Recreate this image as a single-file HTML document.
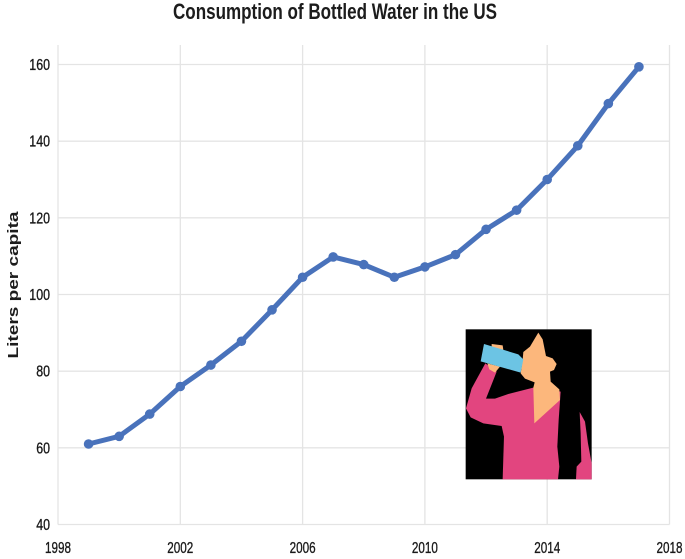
<!DOCTYPE html>
<html>
<head>
<meta charset="utf-8">
<style>
html,body{margin:0;padding:0;background:#fff;width:685px;height:559px;overflow:hidden}
svg{display:block}
text{font-family:"Liberation Sans",sans-serif;fill:#1a1a1a}
</style>
</head>
<body>
<svg id="chart" width="685" height="559" viewBox="0 0 685 559" xmlns="http://www.w3.org/2000/svg">
<defs>
<filter id="soft" x="-5%" y="-5%" width="110%" height="110%"><feGaussianBlur stdDeviation="0.35"/></filter>
<filter id="softer" x="-5%" y="-5%" width="110%" height="110%"><feGaussianBlur stdDeviation="0.7"/></filter>
</defs>
<text x="335" y="19" text-anchor="middle" font-size="22" font-weight="bold" textLength="324" lengthAdjust="spacingAndGlyphs" filter="url(#soft)">Consumption of Bottled Water in the US</text>
<text transform="translate(18,285) rotate(-90)" text-anchor="middle" font-size="14.5" font-weight="bold" textLength="147" lengthAdjust="spacingAndGlyphs" filter="url(#soft)">Liters per capita</text>
<g id="grid"></g>
<g id="ticks" filter="url(#soft)" stroke="#1a1a1a" stroke-width="0.35"></g>
<g id="illustration" transform="translate(450,320) scale(0.3333)" filter="url(#soft)">
<rect x="47" y="28" width="378" height="450" fill="#050505"/>
<path fill="#e2457f" d="M106,130 L140,155 L108,236 L135,236 L175,222 L250,203 L332,215 L326,300 L322,380 L328,440 L324,478 L158,478 L162,350 L155,318 L100,310 L62,292 L48,265 L65,205 Z"/>
<path fill="#e2457f" d="M389,276 L405,305 L414,370 L425,430 L425,478 L378,478 L380,440 L394,425 L392,340 Z"/>
<path fill="#fcb77b" d="M265,38 L278,58 L288,108 L308,115 L320,132 L312,150 L300,155 L302,185 L328,208 L330,240 L253,310 L250,203 L254,187 L225,176 L212,160 L218,120 L220,96 L240,80 Z"/>
<path fill="#fcb77b" d="M125,72 L158,76 L160,90 L125,84 Z M112,130 L150,140 L135,158 L118,148 Z"/>
<path fill="#6cc4e4" d="M102,72 L205,103 L220,118 L212,158 L92,124 Z"/>
</g>
<path id="series-line" fill="none" stroke="#4a72bb" stroke-width="5" stroke-linejoin="round" filter="url(#soft)"/>
<g id="points" filter="url(#soft)"></g>
</svg>
<script>
const years = [1999,2000,2001,2002,2003,2004,2005,2006,2007,2008,2009,2010,2011,2012,2013,2014,2015,2016,2017];
const litersPerCapita = [61,63,68.8,76,81.6,87.8,96,104.5,109.8,107.8,104.5,107.2,110.4,117,122,130,138.8,149.8,159.4];
const xTicks = [1998,2002,2006,2010,2014,2018];
const yTicks = [40,60,80,100,120,140,160];

const NS = 'http://www.w3.org/2000/svg';
const xScale = v => 58 + (v - 1998) * (669.5 - 58) / 20;
const yScale = v => 524.5 - (v - 40) * (524.5 - 64.5) / 120;
const gridG = document.getElementById('grid');
const ticksG = document.getElementById('ticks');
const pointsG = document.getElementById('points');

function line(x1, y1, x2, y2) {
  const l = document.createElementNS(NS, 'line');
  l.setAttribute('x1', x1);
  l.setAttribute('y1', y1);
  l.setAttribute('x2', x2);
  l.setAttribute('y2', y2);
  l.setAttribute('stroke', '#e4e4e4');
  l.setAttribute('stroke-width', '1.3');
  gridG.appendChild(l);
  return l;
}
function label(x, y, str, anchor, width) {
  const t = document.createElementNS(NS, 'text');
  t.setAttribute('x', x);
  t.setAttribute('y', y);
  t.setAttribute('text-anchor', anchor);
  t.setAttribute('font-size', '16');
  t.setAttribute('textLength', width);
  t.setAttribute('lengthAdjust', 'spacingAndGlyphs');
  t.textContent = str;
  ticksG.appendChild(t);
  return t;
}
yTicks.forEach(v => {
  const l = line(58, yScale(v), 669.5, yScale(v));
  
  
  const t = label(50, yScale(v) + 5.5, String(v), 'end', String(v).length * 6.9);
  
  
});
xTicks.forEach(v => {
  const l = line(xScale(v), 45, xScale(v), 524.5);
  
  
  const t = label(xScale(v), 553, String(v), 'middle', 26);
  
  
});
document.getElementById('series-line').setAttribute('d',
  years.map((y, i) => (i ? 'L' : 'M') + xScale(y) + ',' + yScale(litersPerCapita[i])).join(' '));
years.forEach((y, i) => {
  const c = document.createElementNS(NS, 'circle');
  
  
  c.setAttribute('cx', xScale(y));
  c.setAttribute('cy', yScale(litersPerCapita[i]));
  c.setAttribute('r', '4.8');
  c.setAttribute('fill', '#4a72bb');
  pointsG.appendChild(c);
});
</script>
</body>
</html>
